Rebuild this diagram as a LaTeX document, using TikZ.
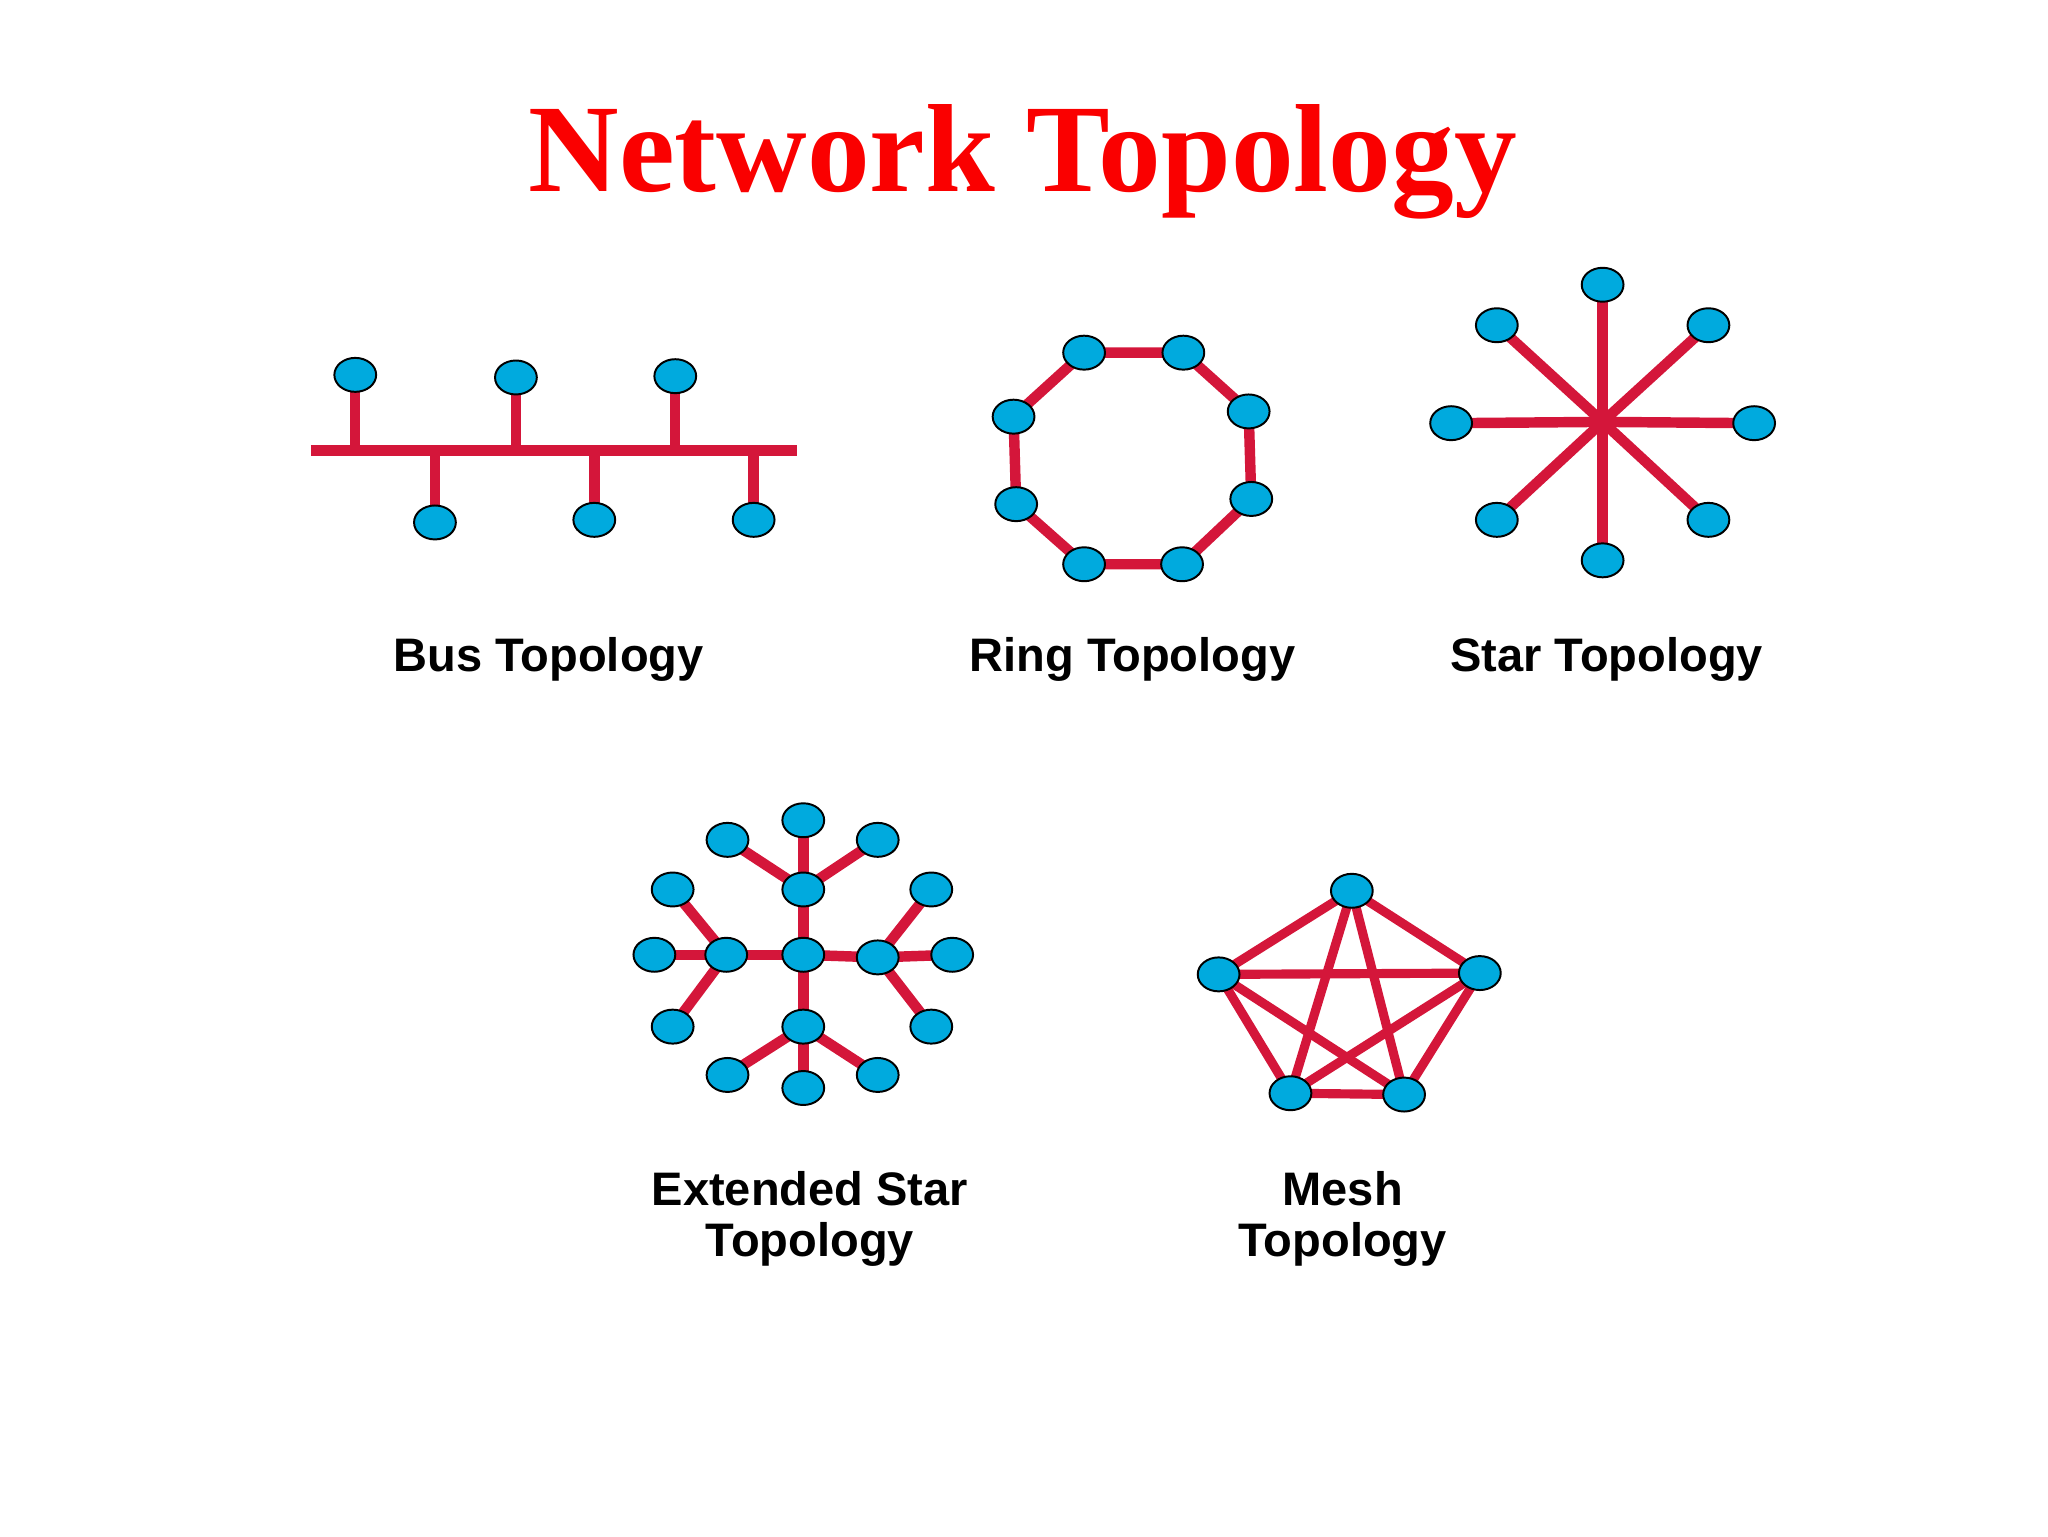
\documentclass[tikz,border=0pt]{standalone}
\usepackage{fontspec}
\usetikzlibrary{shapes.geometric}
\setmainfont{Liberation Serif}
\newfontfamily\lblfont{Liberation Sans}
\definecolor{linkred}{RGB}{212,22,58}
\definecolor{nodeblue}{RGB}{0,170,222}
\definecolor{titlered}{RGB}{250,0,0}
\begin{document}
\begin{tikzpicture}[x=1pt,y=-1pt,
  nd/.style={ellipse,draw=black,line width=1.5pt,fill=nodeblue,minimum width=32pt,minimum height=26pt,inner sep=0pt},
  lk/.style={draw=linkred,line width=8pt},
  lbl/.style={font=\lblfont\bfseries\fontsize{36}{39}\selectfont,align=center}]
\useasboundingbox (0,0) rectangle (1568,1176);
\node[font=\bfseries\fontsize{96}{105}\selectfont,text=titlered] (title) at (783,124) {Network Topology};
% Bus
\coordinate (b0) at (238,345); \coordinate (b1) at (610,345);
\draw[lk] (b0) -- (b1);
\foreach \n/\x/\y in {t1/272/287,t2/395/289,t3/517/288,u1/333/400,u2/455/398,u3/577/398}{
  \coordinate (s\n) at (\x,345);
  \coordinate (c\n) at (\x,\y);
  \draw[lk] (s\n) -- (c\n);
}
\foreach \n/\x/\y in {t1/272/287,t2/395/289,t3/517/288,u1/333/400,u2/455/398,u3/577/398}{
  \node[nd] (\n) at (\x,\y) {};}
\node[lbl] (lbus) at (420,505) {Bus Topology};
% Ring
\foreach \i/\x/\y in {1/830/270,2/906/270,3/956/315,4/958/382,5/905/432,6/830/432,7/778/386,8/776/319}{
  \coordinate (r\i) at (\x,\y);}
\draw[lk] (r1)--(r2)--(r3)--(r4)--(r5)--(r6)--(r7)--(r8)--cycle;
\foreach \i/\x/\y in {1/830/270,2/906/270,3/956/315,4/958/382,5/905/432,6/830/432,7/778/386,8/776/319}{
  \node[nd] (rn\i) at (\x,\y) {};}
\node[lbl] (lring) at (867,505) {Ring Topology};
% Star
\coordinate (sc) at (1227,323);
\foreach \i/\x/\y in {1/1227/218,2/1308/249,3/1343/324,4/1308/398,5/1227/429,6/1146/398,7/1111/324,8/1146/249}{
  \coordinate (sp\i) at (\x,\y); \draw[lk] (sc) -- (sp\i);}
\foreach \i/\x/\y in {1/1227/218,2/1308/249,3/1343/324,4/1308/398,5/1227/429,6/1146/398,7/1111/324,8/1146/249}{
  \node[nd] (sn\i) at (\x,\y) {};}
\node[lbl] (lstar) at (1230,505) {Star Topology};
% Extended star
\coordinate (extc) at (615,731);
\foreach \i/\x/\y in {a/615/681,b/672/733,c/615/786,d/556/731}{\coordinate (ei\i) at (\x,\y); \draw[lk] (extc)--(ei\i);}
\foreach \p/\q/\x/\y in {a/1/615/628,a/2/557/643,a/3/672/643,b/1/713/681,b/2/729/731,b/3/713/786,c/1/615/833,c/2/557/823,c/3/672/823,d/1/515/681,d/2/501/731,d/3/515/786}{
  \coordinate (eo\p\q) at (\x,\y); \draw[lk] (ei\p)--(eo\p\q);}
\foreach \p/\q/\x/\y in {a/1/615/628,a/2/557/643,a/3/672/643,b/1/713/681,b/2/729/731,b/3/713/786,c/1/615/833,c/2/557/823,c/3/672/823,d/1/515/681,d/2/501/731,d/3/515/786}{
  \node[nd] (eno\p\q) at (\x,\y) {};}
\foreach \i/\x/\y in {a/615/681,b/672/733,c/615/786,d/556/731,x/615/731}{\node[nd] (en\i) at (\x,\y) {};}
\node[lbl] (lext) at (620,933) {Extended Star\\Topology};
% Mesh
\foreach \i/\x/\y in {1/1035/682,2/1133/745,3/1075/838,4/988/837,5/933/746}{\coordinate (m\i) at (\x,\y);}
\foreach \i in {1,...,5}{\foreach \j in {1,...,5}{\ifnum\i<\j \draw[lk,line width=7pt] (m\i)--(m\j);\fi}}
\foreach \i/\x/\y in {1/1035/682,2/1133/745,3/1075/838,4/988/837,5/933/746}{\node[nd] (mn\i) at (\x,\y) {};}
\node[lbl] (lmesh) at (1028,933) {Mesh\\Topology};
\end{tikzpicture}
\end{document}
